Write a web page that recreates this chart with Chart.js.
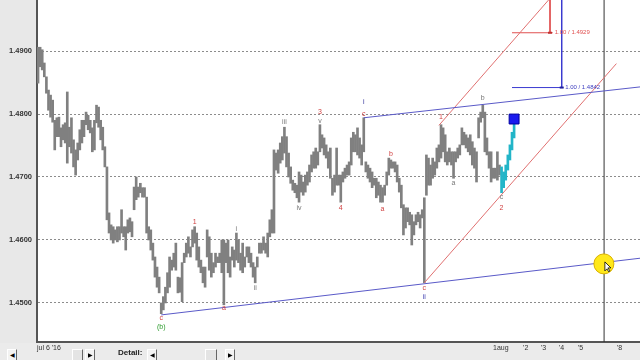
<!DOCTYPE html>
<html><head><meta charset="utf-8">
<script src="https://cdn.jsdelivr.net/npm/chart.js@4.4.0/dist/chart.umd.min.js"></script>
<style>
html,body{margin:0;padding:0;width:640px;height:360px;overflow:hidden;background:#fff;font-family:'Liberation Sans',Arial,sans-serif}
#wrap{position:relative;width:640px;height:360px}
#leftpanel{position:absolute;left:0;top:0;width:36px;height:343px;background:#e8e8e8}
#bottom{position:absolute;left:0;top:343px;width:640px;height:17px;background:#ebebeb}
canvas{position:absolute;left:0;top:0}
.btn{position:absolute;top:349px;width:8px;height:10px;background:#f2f2f2;border:1px solid;border-color:#fff #666 #666 #fff;font-size:6px;line-height:10px;text-align:center;color:#000;z-index:2}
.thumb{position:absolute;top:349px;height:10px;background:#e4e4e4;border:1px solid;border-color:#fff #666 #666 #fff;z-index:2}
#detail{position:absolute;left:118px;top:348px;font-size:8px;font-weight:bold;color:#222;z-index:2}
</style></head>
<body><div id="wrap">
<div id="leftpanel"></div><div id="bottom"></div>
<canvas id="c" width="640" height="360"></canvas>
<div class="btn" style="left:7px">&#9664;</div>
<div class="thumb" style="left:72px;width:9px"></div>
<div class="btn" style="left:85px">&#9654;</div>
<div id="detail">Detail:</div>
<div class="btn" style="left:147px">&#9664;</div>
<div class="thumb" style="left:205px;width:10px"></div>
<div class="btn" style="left:225px">&#9654;</div>
</div>
<script>
// ---- data (bar highs / lows) ----
const barHigh = [1.4906,1.4906,1.4902,1.4881,1.4859,1.4838,1.4830,1.4822,1.4790,1.4794,
1.4795,1.4778,1.4783,1.4786,1.4835,1.4779,1.4794,1.4759,1.4743,1.4754,
1.4775,1.4790,1.4790,1.4803,1.4798,1.4790,1.4778,1.4790,1.4814,1.4811,
1.4790,1.4779,1.4748,1.4716,1.4643,1.4624,1.4621,1.4616,1.4621,1.4621,
1.4648,1.4621,1.4621,1.4632,1.4635,1.4629,1.4684,1.4700,1.4684,1.4690,
1.4683,1.4683,1.4668,1.4621,1.4616,1.4595,1.4573,1.4557,1.4541,1.4500,
1.4510,1.4525,1.4548,1.4573,1.4568,1.4579,1.4595,1.4541,1.4540,1.4564,
1.4579,1.4595,1.4605,1.4589,1.4616,1.4621,1.4611,1.4589,1.4568,1.4557,
1.4557,1.4616,1.4605,1.4579,1.4564,1.4579,1.4573,1.4579,1.4600,1.4600,
1.4595,1.4600,1.4573,1.4589,1.4584,1.4611,1.4600,1.4579,1.4595,1.4573,
1.4589,1.4589,1.4579,1.4564,1.4557,1.4573,1.4595,1.4595,1.4605,1.4595,
1.4611,1.4632,1.4648,1.4743,1.4738,1.4743,1.4754,1.4764,1.4779,1.4764,
1.4738,1.4716,1.4695,1.4690,1.4687,1.4708,1.4703,1.4692,1.4703,1.4708,
1.4719,1.4735,1.4740,1.4746,1.4740,1.4783,1.4767,1.4762,1.4751,1.4740,
1.4746,1.4698,1.4703,1.4746,1.4703,1.4703,1.4708,1.4714,1.4719,1.4724,
1.4762,1.4771,1.4767,1.4778,1.4762,1.4751,1.4794,1.4724,1.4719,1.4714,
1.4708,1.4698,1.4698,1.4692,1.4687,1.4683,1.4687,1.4708,1.4730,1.4727,
1.4724,1.4724,1.4719,1.4698,1.4687,1.4656,1.4651,1.4651,1.4644,1.4640,
1.4629,1.4640,1.4644,1.4640,1.4648,1.4667,1.4735,1.4730,1.4719,1.4730,
1.4724,1.4746,1.4751,1.4783,1.4778,1.4767,1.4740,1.4746,1.4740,1.4740,
1.4740,1.4746,1.4751,1.4778,1.4771,1.4767,1.4762,1.4767,1.4756,1.4746,
1.4740,1.4794,1.4803,1.4814,1.4803,1.4762,1.4740,1.4740,1.4714,1.4714,
1.4740,1.4719,1.4716,1.4708,1.4719,1.4735,1.4751,1.4771,1.4790];
const barLow = [1.4849,1.4875,1.4870,1.4859,1.4833,1.4806,1.4795,1.4787,1.4743,1.4764,
1.4764,1.4748,1.4759,1.4754,1.4722,1.4748,1.4738,1.4716,1.4703,1.4727,
1.4743,1.4754,1.4764,1.4783,1.4775,1.4770,1.4740,1.4743,1.4786,1.4779,
1.4759,1.4743,1.4716,1.4632,1.4611,1.4600,1.4595,1.4600,1.4597,1.4600,
1.4611,1.4605,1.4584,1.4611,1.4613,1.4605,1.4648,1.4664,1.4668,1.4675,
1.4668,1.4668,1.4611,1.4600,1.4584,1.4568,1.4541,1.4525,1.4516,1.4483,
1.4489,1.4500,1.4516,1.4525,1.4552,1.4557,1.4552,1.4516,1.4517,1.4502,
1.4564,1.4573,1.4579,1.4573,1.4589,1.4595,1.4568,1.4557,1.4548,1.4532,
1.4525,1.4573,1.4552,1.4541,1.4548,1.4557,1.4564,1.4564,1.4548,1.4497,
1.4564,1.4548,1.4541,1.4568,1.4557,1.4568,1.4564,1.4552,1.4548,1.4557,
1.4573,1.4564,1.4557,1.4541,1.4532,1.4557,1.4579,1.4579,1.4584,1.4579,
1.4573,1.4605,1.4611,1.4611,1.4711,1.4706,1.4722,1.4727,1.4738,1.4716,
1.4700,1.4690,1.4679,1.4675,1.4667,1.4660,1.4676,1.4671,1.4676,1.4687,
1.4692,1.4708,1.4714,1.4714,1.4719,1.4740,1.4746,1.4735,1.4730,1.4714,
1.4698,1.4671,1.4676,1.4687,1.4687,1.4660,1.4692,1.4698,1.4703,1.4703,
1.4719,1.4740,1.4740,1.4735,1.4730,1.4719,1.4740,1.4708,1.4698,1.4692,
1.4683,1.4687,1.4667,1.4671,1.4660,1.4660,1.4671,1.4687,1.4703,1.4714,
1.4714,1.4708,1.4692,1.4676,1.4651,1.4608,1.4619,1.4629,1.4624,1.4592,
1.4608,1.4624,1.4629,1.4619,1.4635,1.4532,1.4671,1.4687,1.4687,1.4698,
1.4703,1.4714,1.4724,1.4730,1.4740,1.4724,1.4719,1.4724,1.4719,1.4698,
1.4724,1.4730,1.4735,1.4751,1.4751,1.4746,1.4740,1.4735,1.4719,1.4714,
1.4692,1.4762,1.4787,1.4794,1.4740,1.4735,1.4714,1.4692,1.4698,1.4698,
1.4695,1.4703,1.4675,1.4683,1.4695,1.4711,1.4727,1.4743,1.4762];
const waveStart = 222; // first bar of the highlighted (cyan) wave

// axis ticks
const yTicks = [1.4500,1.4600,1.4700,1.4800,1.4900];
const xTickPos = [-0.5,217.9,232.3,240.9,249.5,258.6,277.3];
const xTickLabels = ["jul 6 '16","1aug","'2","'3","'4","'5","'8"];

// trend / channel lines: [x0,y0,x1,y1]
const lowerBlue = [59,1.4481,288.3,1.4571];
const upperBlue = [156,1.4794,288.3,1.4843];
const lowerRed  = [185,1.4532,277,1.4880];
const upperRed  = [192,1.4782,244.5,1.4981];
// projection targets
const redTarget  = {x0:227, x1:246.5, xv:245.2, y:1.4929, text:"1.00 / 1.4929"};
const blueTarget = {x0:227, x1:251.5, xv:250.8, y:1.4842, text:"1.00 / 1.4842"};
const nowX = 271.1;
const marker = {x:271, y:1.4562};
const lastBox = {x:228, y:1.4792};

// wave labels
const waveText  = ["c","(b)","1","a","i","ii","iii","iv","v","3","4","c","i","a","b","c","ii","1","a","b","c","2"];
const waveX     = [59,59,75,89,95,104,118,125,135,135,145,156,156,165,169,185,185,193,199,213,222,222];
const waveY     = [1.4476,1.4462,1.4629,1.4492,1.4617,1.4524,1.4787,1.4651,1.4789,1.4803,1.4651,1.4800,1.4819,1.4649,1.4737,1.4524,1.4510,1.4795,1.4690,1.4825,1.4668,1.4651];
const waveColor = ["#d04040","#2a9a2a","#d04040","#d04040","#777","#777","#777","#777","#777","#d04040","#d04040","#d04040","#33339a","#d04040","#d04040","#d04040","#3f3fb0","#d04040","#777","#777","#777","#d04040"];

const yMin = 1.4438, yMax = 1.4981, xMin = -0.5, xMax = 288.3;

const bars = barHigh.map((h,i)=>({x:i, y:[barLow[i], h]}));
const seg = (a)=>[{x:a[0],y:a[1]},{x:a[2],y:a[3]}];
const lineDs = (data,color,w)=>({type:'line',data,borderColor:color,borderWidth:w||1,pointRadius:0,fill:false,tension:0,order:0});

const labelPlugin = {
  id:'labels',
  afterDatasetsDraw(chart){
    const {ctx, scales:{x,y}} = chart;
    ctx.save();
    ctx.textAlign='center'; ctx.textBaseline='middle';
    ctx.font='7px "Liberation Sans", Arial, sans-serif';
    waveText.forEach((t,i)=>{
      ctx.fillStyle=waveColor[i];
      ctx.fillText(t, x.getPixelForValue(waveX[i]), y.getPixelForValue(waveY[i]));
    });
    ctx.font='6px "Liberation Sans", Arial, sans-serif';
    ctx.textAlign='left';
    ctx.fillStyle='#e05050';
    ctx.fillText(redTarget.text, x.getPixelForValue(redTarget.x1)+2, y.getPixelForValue(redTarget.y));
    ctx.fillStyle='#4040c0';
    ctx.fillText(blueTarget.text, x.getPixelForValue(blueTarget.x1)+2, y.getPixelForValue(blueTarget.y));
    ctx.fillStyle='#c03030';
    ctx.fillRect(x.getPixelForValue(redTarget.xv)-2, y.getPixelForValue(redTarget.y)-1, 4, 2);
    ctx.fillStyle='#2020a0';
    ctx.fillRect(x.getPixelForValue(blueTarget.xv)-2, y.getPixelForValue(blueTarget.y)-1, 4, 2);
    const px = x.getPixelForValue(marker.x)+1, py = y.getPixelForValue(marker.y)-2;
    ctx.beginPath();
    ctx.moveTo(px,py); ctx.lineTo(px,py+9); ctx.lineTo(px+2,py+7); ctx.lineTo(px+4,py+10);
    ctx.lineTo(px+5,py+9); ctx.lineTo(px+3,py+6); ctx.lineTo(px+6,py+6); ctx.closePath();
    ctx.fillStyle='#fff'; ctx.fill(); ctx.strokeStyle='#000'; ctx.lineWidth=0.8; ctx.stroke();
    ctx.restore();
  }
};

new Chart(document.getElementById('c'), {
  type:'bar',
  data:{datasets:[
    lineDs(seg(lowerBlue),'#5a5ac8',1),
    lineDs(seg(upperBlue),'#5a5ac8',1),
    lineDs(seg(lowerRed),'#e07070',1),
    lineDs(seg(upperRed),'#e07070',1),
    lineDs([{x:redTarget.xv,y:yMax},{x:redTarget.xv,y:redTarget.y}],'#e05050',1),
    lineDs([{x:redTarget.x0,y:redTarget.y},{x:redTarget.x1,y:redTarget.y}],'#e05050',1),
    lineDs([{x:blueTarget.xv,y:yMax},{x:blueTarget.xv,y:blueTarget.y}],'#3a3ad0',1),
    lineDs([{x:blueTarget.x0,y:blueTarget.y},{x:blueTarget.x1,y:blueTarget.y}],'#3a3ad0',1),
    lineDs([{x:nowX,y:yMin},{x:nowX,y:yMax}],'#333',1),
    {type:'line',data:[marker],showLine:false,pointRadius:10,pointBackgroundColor:'#ffe81a',pointBorderColor:'#d8b000',pointBorderWidth:1,order:-1},
    {type:'line',data:[lastBox],showLine:false,pointStyle:'rect',pointRadius:7,pointBackgroundColor:'#1a1aee',pointBorderColor:'#0000a0',pointBorderWidth:1,order:-1},
    {type:'bar',data:bars,barThickness:2,grouped:false,order:1,
     backgroundColor:(c)=>c.dataIndex>=waveStart?'#22b5c8':'#808080'}
  ]},
  options:{
    responsive:false, animation:false, events:[],
    layout:{padding:0, autoPadding:false},
    plugins:{legend:{display:false},tooltip:{enabled:false}},
    scales:{
      x:{type:'linear',min:xMin,max:xMax,offset:false,
        afterFit(s){s.height=18;s.paddingLeft=0;s.paddingRight=0;},
        afterBuildTicks(s){s.ticks=xTickPos.map(v=>({value:v}));},
        grid:{display:false,drawTicks:false},
        border:{display:true,color:'#555',width:2},
        ticks:{autoSkip:false,maxRotation:0,align:'start',padding:2,color:'#333',
          font:{family:'"Liberation Sans", Arial, sans-serif',size:7},
          callback:(v,i)=>xTickLabels[i]}
      },
      y:{min:yMin,max:yMax,
        afterFit(s){s.width=37;s.paddingTop=0;s.paddingBottom=0;},
        afterBuildTicks(s){s.ticks=yTicks.map(v=>({value:v}));},
        grid:{color:'#8c8c8c',lineWidth:1,drawTicks:false},
        border:{display:true,color:'#555',width:2,dash:[2,2]},
        ticks:{padding:5,color:'#333',font:{family:'"Liberation Sans", Arial, sans-serif',size:7.5,weight:'bold'},
          callback:v=>v.toFixed(4)}
      }
    }
  },
  plugins:[labelPlugin]
});
</script></body></html>
